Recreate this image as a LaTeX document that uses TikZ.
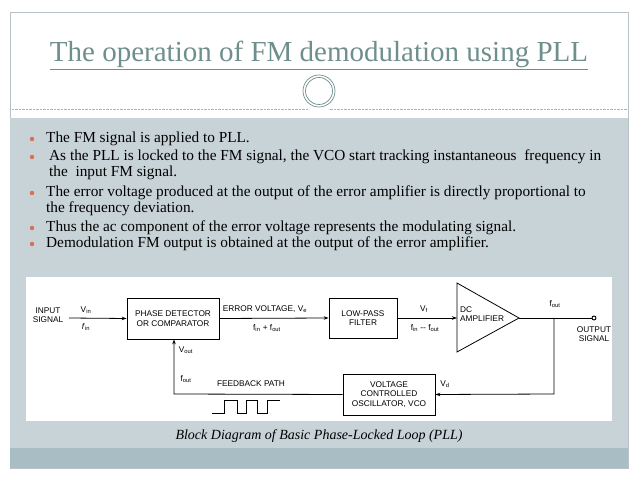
\documentclass[tikz,border=0pt]{standalone}
\usepackage{fontspec}
\setmainfont{Liberation Serif}
\newfontfamily\dsans{Liberation Sans}
\usetikzlibrary{arrows.meta}
\definecolor{slgray}{HTML}{C8D3D8}
\definecolor{slband}{HTML}{A9BDC4}
\definecolor{ttl}{HTML}{6F8F8C}
\definecolor{bul}{HTML}{D9704F}
\tikzset{
 blk/.style={draw,line width=0.8pt,align=center,font=\dsans\fontsize{8.3}{9.5}\selectfont,inner sep=0pt},
 lbl/.style={font=\dsans\fontsize{8.3}{9.5}\selectfont,inner sep=1pt,align=center},
 wire/.style={line width=0.8pt},
 arr/.style={line width=0.8pt,-{Stealth[length=5pt,width=3.5pt]}},
 btxt/.style={anchor=west,font=\fontsize{15.3}{16}\selectfont,inner sep=0pt},
 bdot/.style={circle,fill=bul,inner sep=0pt,minimum size=4.5pt}
}
\begin{document}
\begin{tikzpicture}[x=1pt,y=-1pt]
\useasboundingbox (0,0) rectangle (638,478);
\fill[white] (0,0) rectangle (638,478);
\draw[slgray!80!gray,line width=0.6pt] (10,12) rectangle (628,468);
\fill[slgray] (10.3,118) rectangle (627.7,448);
\fill[slband] (10.3,448) rectangle (627.7,467.7);
\draw[gray!60,densely dotted] (10.3,109) -- (627.7,109);
\node[font=\fontsize{29}{32}\selectfont,text=ttl,inner sep=0pt] (title) at (319,55) {\underline{The operation of FM demodulation using PLL}};
\fill[white] (319,91) circle (21);
\draw[ttl,line width=0.7pt] (319,91) circle (16);
\draw[ttl,line width=0.7pt] (319,91) circle (13.5);
% bullets
\foreach \y in {139,157,193,228,244} \node[bdot] at (32,\y) {};
\node[btxt] (b1) at (46,139) {The FM signal is applied to PLL.};
\node[btxt] (b2) at (49,157) {As the PLL is locked to the FM signal, the VCO start tracking instantaneous\ \ frequency in};
\node[btxt] (b2b) at (49,173) {the\ \ input FM signal.};
\node[btxt] (b3) at (46,193) {The error voltage produced at the output of the error amplifier is directly proportional to};
\node[btxt] (b3b) at (46,209) {the frequency deviation.};
\node[btxt] (b4) at (46,228) {Thus the ac component of the error voltage represents the modulating signal.};
\node[btxt] (b5) at (46,244) {Demodulation FM output is obtained at the output of the error amplifier.};
% diagram
\fill[white] (26,277) rectangle (612,421);
\node[blk,minimum width=92pt,minimum height=41pt] (pd) at (173,318.5) {PHASE DETECTOR\\OR COMPARATOR};
\node[blk,minimum width=68pt,minimum height=40pt] (lpf) at (363,318) {LOW-PASS\\FILTER};
\node[blk,minimum width=92pt,minimum height=41pt] (vco) at (389,394.5) {VOLTAGE\\CONTROLLED\\OSCILLATOR, VCO};
\coordinate (ta) at (457,283); \coordinate (tb) at (457,352); \coordinate (tc) at (519,318);
\draw[line width=0.8pt] (ta) -- (tc) -- (tb) -- cycle;
\node[lbl,anchor=west,align=left] (amp) at (459,314) {DC\\AMPLIFIER};
\node[lbl,align=center] (in) at (48,315) {INPUT\\SIGNAL};
\coordinate (ins) at (69,318);
\draw[arr] (ins) -- (pd.west);
\node[lbl] (vin) at (86,310) {V\textsubscript{in}};
\node[lbl] (fin) at (86,327) {\textit{f}\textsubscript{in}};
\draw[arr] (pd.east) -- (lpf.west);
\node[lbl] (ev) at (265,309) {ERROR VOLTAGE, V\textsubscript{e}};
\node[lbl] (fs) at (267,328) {f\textsubscript{in} + f\textsubscript{out}};
\coordinate (ampin) at (457,318);
\draw[arr] (lpf.east) -- (ampin);
\node[lbl] (vf) at (424,309) {V\textsubscript{f}};
\node[lbl] (fd) at (425,328) {f\textsubscript{in} -- f\textsubscript{out}};
\coordinate (jn) at (554,318);
\node[draw,circle,line width=0.9pt,inner sep=0pt,minimum size=4pt] (outc) at (594,318) {};
\draw[wire] (tc) -- (outc);
\node[lbl] (fout) at (555,304) {f\textsubscript{out}};
\node[lbl] (os) at (594,334) {OUTPUT\\SIGNAL};
\coordinate (jb) at (554,394);
\draw[arr] (jn) -- (jb) -- (vco.east);
\node[lbl] (vd) at (445,384) {V\textsubscript{d}};
\coordinate (fb) at (174,394);
\draw[arr] (vco.west) -- (fb) -- (pd.south west -| fb);
\node[lbl] (vout) at (186,350) {V\textsubscript{out}};
\node[lbl] (fo2) at (186,379) {f\textsubscript{out}};
\node[lbl] (fp) at (251,384) {FEEDBACK PATH};
\draw[wire] (212,413) -- (224,413) -- (224,400) -- (237,400) -- (237,413) -- (246,413) -- (246,400) -- (257,400) -- (257,413) -- (267,413) -- (267,400) -- (280,400);
\node[font=\fontsize{14}{16}\selectfont\itshape,inner sep=0pt] (cap) at (319,436) {Block Diagram of Basic Phase-Locked Loop (PLL)};
\end{tikzpicture}
\end{document}
